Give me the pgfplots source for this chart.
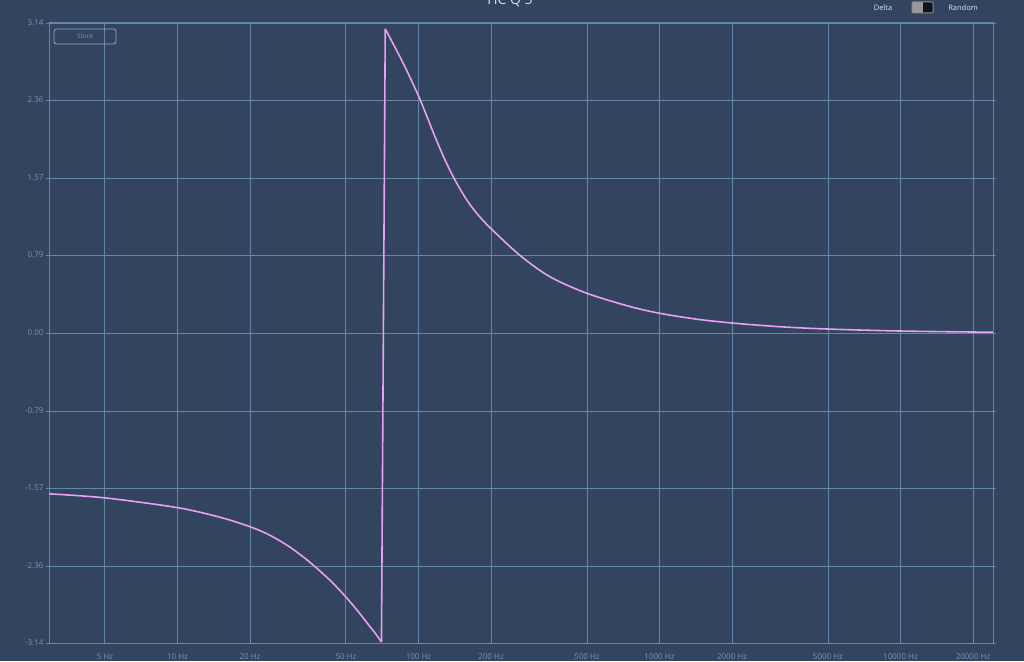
\documentclass[border=0pt]{standalone}
\usepackage{pgfplots}
\pgfplotsset{compat=1.18}
\usepackage{fontspec}
\setmainfont{Open Sans}
\definecolor{bg}{RGB}{51,68,95}
\definecolor{gridc}{RGB}{98,135,170}
\definecolor{curvec}{RGB}{232,160,240}
\definecolor{tickc}{RGB}{122,147,178}
\definecolor{btnc}{RGB}{150,170,195}
\definecolor{titlec}{RGB}{220,226,234}
\begin{document}
\begin{tikzpicture}[x=1pt,y=1pt]
\fill[bg] (0,0) rectangle (1024,661);
\begin{axis}[
  at={(49pt,18pt)}, anchor=south west,
  scale only axis, width=944pt, height=620pt,
  xmode=log, xmin=2.93, xmax=24200, ymin=-3.14, ymax=3.14,
  xtick={5,10,20,50,100,200,500,1000,2000,5000,10000,20000},
  xticklabels={5 Hz,10 Hz,20 Hz,50 Hz,100 Hz,200 Hz,500 Hz,1000 Hz,2000 Hz,5000 Hz,10000 Hz,20000 Hz},
  minor xtick={}, minor x tick num=0,
  ytick={-3.14,-2.36,-1.57,-0.79,0,0.79,1.57,2.36,3.14},
  yticklabels={-3.14,-2.36,-1.57,-0.79,0.00,0.79,1.57,2.36,3.14},
  grid=major, grid style={gridc, line width=0.9pt},
  axis line style={gridc, line width=1pt},
  xtick style={draw=none},
  ytick style={gridc, line width=0.8pt},
  tick align=outside, major tick length=3pt,
  xticklabel style={font=\fontsize{8}{9}\selectfont, text=tickc, anchor=center, yshift=-11pt},
  yticklabel style={font=\fontsize{8}{9}\selectfont, text=tickc, anchor=east, xshift=1pt},
  axis background/.style={fill=bg},
]
\addplot[curvec, line width=1.6pt, line join=round, smooth, tension=0.5] coordinates {
(2.93,-1.629)
(5,-1.670)
(10,-1.769)
(15,-1.866)
(20,-1.962)
(24.15,-2.048)
(29.2,-2.167)
(35.3,-2.319)
(42.9,-2.504)
(50,-2.675)
(57.1,-2.842)
(62.8,-2.972)
(66.6,-3.05)
(70.2,-3.13)
};
\addplot[curvec, line width=1.6pt, line join=round] coordinates {
(70.2,-3.13)
(72.8,3.08)
};
\addplot[curvec, line width=1.6pt, line join=round, smooth, tension=0.5] coordinates {
(72.8,3.08)
(86.5,2.73)
(101,2.377)
(117,1.99)
(129,1.75)
(139.7,1.578)
(152,1.42)
(163.7,1.299)
(180,1.174)
(200,1.057)
(264,0.785)
(352,0.568)
(500,0.402)
(757,0.267)
(1000,0.2)
(1409,0.142)
(2000,0.101)
(3140,0.064)
(5000,0.04)
(10000,0.02)
(20000,0.01)
(24200,0.008)
};
\end{axis}
% Store button
\draw[btnc, line width=0.8pt, rounded corners=2.5pt] (54,632) rectangle (116,617);
\node[text=tickc, font=\fontsize{6.5}{7}\selectfont] at (85,624.5) {Store};
% title (cut at the top)
\node[text=titlec, font=\fontsize{14}{16}\selectfont, anchor=base] at (510,656) {HC Q 5};
% Delta / Random toggle
\node[text=titlec, font=\fontsize{7.5}{9}\selectfont] at (883,653.5) {Delta};
\fill[black!40] (912,659) rectangle (923,648);
\fill[black!70!bg] (923,659) rectangle (933,648);
\draw[black!45, line width=1pt, rounded corners=1pt] (912,659) rectangle (933,648);
\node[text=titlec, font=\fontsize{7.5}{9}\selectfont] at (963,653.5) {Random};
\pgfresetboundingbox
\useasboundingbox (0,0) rectangle (1024,661);
\end{tikzpicture}
\end{document}
